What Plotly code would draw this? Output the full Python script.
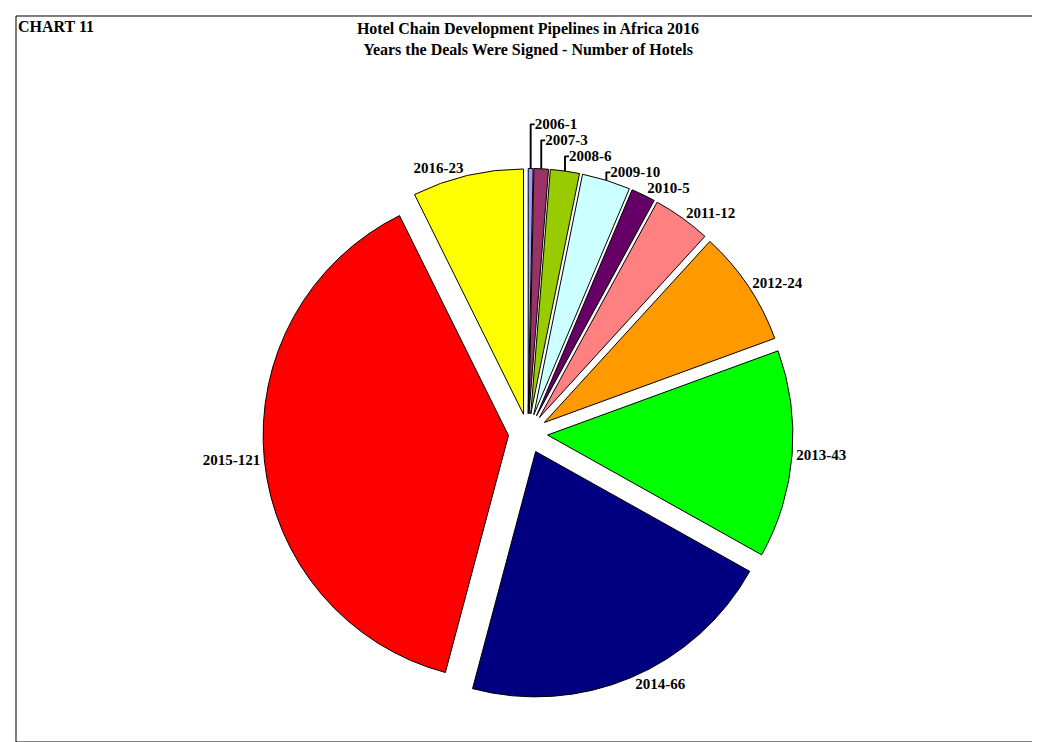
import plotly.graph_objects as go

years = ["2006", "2007", "2008", "2009", "2010", "2011", "2012", "2013", "2014", "2015", "2016"]
hotels = [1, 3, 6, 10, 5, 12, 24, 43, 66, 121, 23]
colors = ["#9999FF", "#993366", "#99CC00", "#CCFFFF", "#660066", "#FF8080",
          "#FF9900", "#00FF00", "#000080", "#FF0000", "#FFFF00"]

labels = [f"<b>{y}-{n}</b>" for y, n in zip(years, hotels)]

fig = go.Figure(go.Pie(
    labels=labels,
    values=hotels,
    sort=False,
    direction="clockwise",
    rotation=0,
    pull=[0.08] * len(hotels),
    marker=dict(colors=colors, line=dict(color="black", width=1)),
    textinfo="label",
    textposition="outside",
    textfont=dict(family="Liberation Serif", size=15, color="black"),
    showlegend=False,
    automargin=False,
    hoverinfo="label+percent",
    domain=dict(x=[0.18, 0.82], y=[0.06, 0.79]),
))

fig.update_layout(
    width=1040, height=742,
    paper_bgcolor="white",
    margin=dict(l=8, r=8, t=8, b=8),
    font=dict(family="Liberation Serif", color="black"),
    title=dict(
        text="<b>Hotel Chain Development Pipelines in Africa 2016<br>Years the Deals Were Signed - Number of Hotels</b>",
        x=0.5, y=0.965, xanchor="center", yanchor="top",
        font=dict(family="Liberation Serif", size=16, color="black"),
    ),
    annotations=[dict(text="<b>CHART 11</b>", x=0.0, y=1.0, xref="paper", yref="paper",
                      xanchor="left", yanchor="top", showarrow=False,
                      font=dict(family="Liberation Serif", size=16, color="black"))],
    shapes=[dict(type="rect", xref="paper", yref="paper", x0=0, y0=0, x1=1, y1=1,
                 line=dict(color="black", width=1))],
)

fig.write_html("out.html")
